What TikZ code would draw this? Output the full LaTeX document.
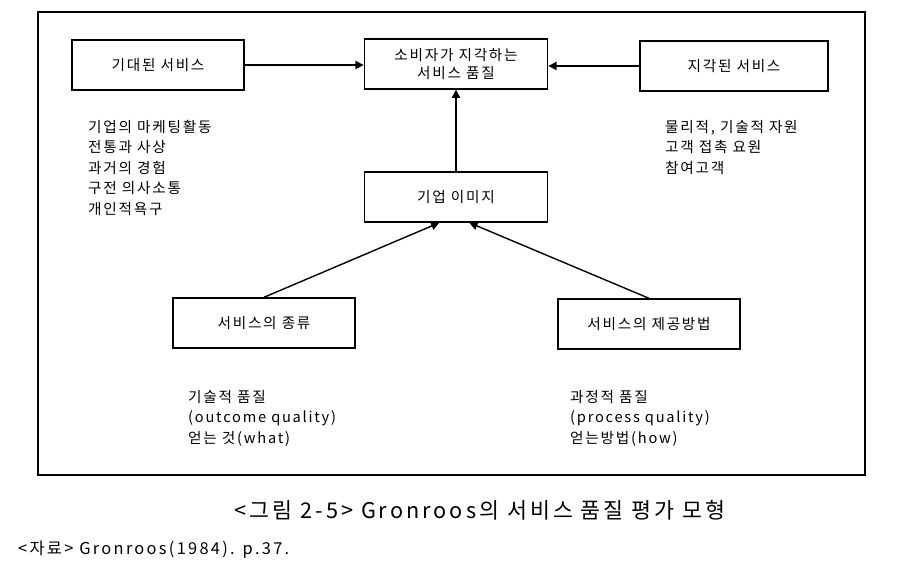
\documentclass[tikz,border=0pt]{standalone}
\usepackage{fontspec}
\setmainfont{Liberation Serif}
\newfontfamily\kr[LetterSpace=12]{Noto Sans CJK KR}
\newfontfamily\krcap[LetterSpace=14]{Noto Sans CJK KR}
\usetikzlibrary{arrows.meta}
\begin{document}
\begin{tikzpicture}[x=0.03cm, y=-0.03cm,
	box/.style={draw, very thick, minimum width=5.4cm, minimum height=1.5cm, font=\kr\fontsize{12.5}{15}\selectfont},
	arr/.style={-{Triangle[length=7pt,width=7pt]}, very thick},
	notes/.style={anchor=north west, align=left, font=\kr\fontsize{12.5}{17.5}\selectfont, inner sep=0pt}
	]
	\useasboundingbox (0,0) rectangle (900,576);
	% frame
	\draw[line width=1.2pt] (38,12) rectangle (865,475);

	% boxes
	\node[box, minimum width=5.16cm] (expected) at (158,65) {기대된 서비스};
	\node[box, minimum width=5.5cm, align=center] (quality) at (456,64) {소비자가 지각하는\\서비스 품질};
	\node[box, minimum width=5.64cm] (perceived) at (734,66) {지각된 서비스};
	\node[box, minimum width=5.5cm] (image) at (456,197) {기업 이미지};
	\node[box, minimum width=5.46cm] (kind) at (264,323) {서비스의 종류};
	\node[box, minimum width=5.46cm] (method) at (649,324) {서비스의 제공방법};

	% connectors
	\draw[arr] (expected.east) -- (quality.west |- expected.east);
	\draw[arr] (perceived.west) -- (quality.east |- perceived.west);
	\draw[arr] (image.north) -- (quality.south);
	\draw[arr] (kind.north) -- ([xshift=-0.5cm]image.south);
	\draw[arr] (method.north) -- ([xshift=0.4cm]image.south);

	% notes
	\node[notes] (leftnotes) at (88,120) {기업의 마케팅활동\\전통과 사상\\과거의 경험\\구전 의사소통\\개인적욕구};
	\node[notes] (rightnotes) at (665,120) {물리적, 기술적 자원\\고객 접촉 요원\\참여고객};
	\node[notes] (outcome) at (188,390) {기술적 품질\\(outcome quality)\\얻는 것(what)};
	\node[notes] (process) at (570,390) {과정적 품질\\(process quality)\\ 얻는방법(how)};

	% caption
	\node[font=\krcap\fontsize{18.5}{20}\selectfont] (caption) at (480,510) {<그림 2-5> Gronroos의 서비스 품질 평가 모형};
	\node[anchor=west, font=\krcap\fontsize{14}{16}\selectfont] (source) at (14,550) {<자료> Gronroos(1984). p.37.};
\end{tikzpicture}
\end{document}
